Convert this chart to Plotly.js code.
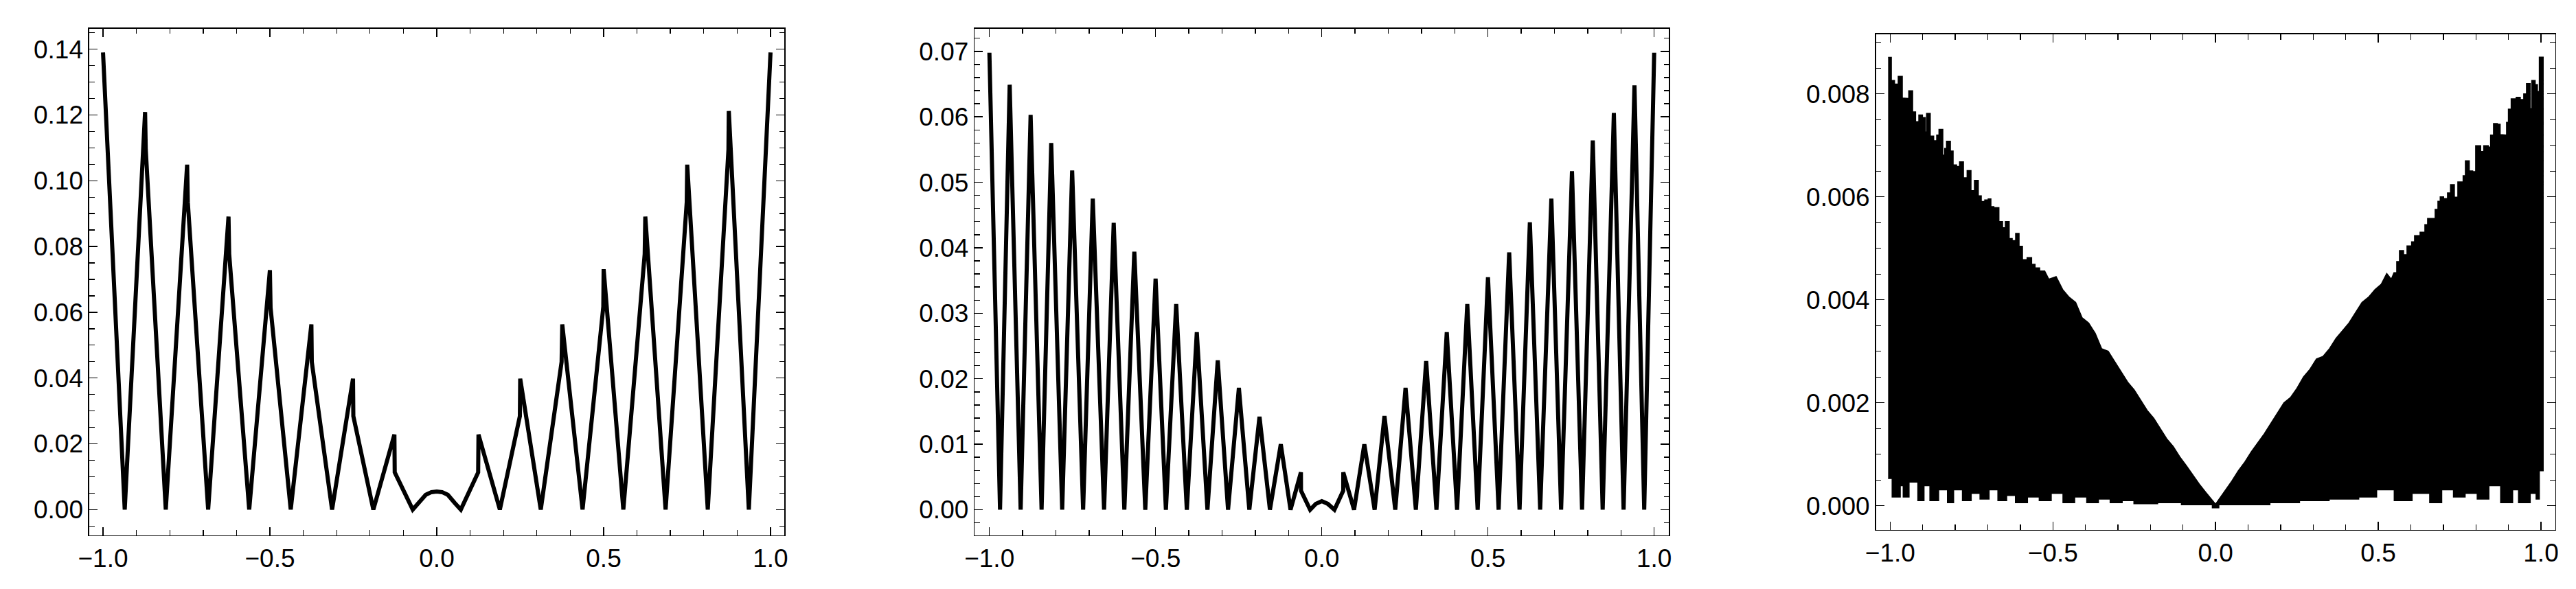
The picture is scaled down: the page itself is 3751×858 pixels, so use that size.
<!DOCTYPE html>
<html>
<head>
<meta charset="utf-8">
<script src="https://cdn.plot.ly/plotly-3.0.1.min.js"></script>
<style>html,body{margin:0;padding:0;background:#fff;}#chart{width:3751px;height:858px;}</style>
</head>
<body>
<div id="chart"></div>
<script>
// ---------- Panel 1 (polyline vertices) ----------
const p1X = [-1.0, -0.935, -0.874, -0.872, -0.812, -0.748, -0.746, -0.685, -0.624, -0.622, -0.562, -0.500, -0.498, -0.4376, -0.3757, -0.3745, -0.3137, -0.251, -0.250, -0.190, -0.127, -0.126, -0.072, -0.054, -0.033, -0.016, 0.0, 0.016, 0.033, 0.054, 0.072, 0.124, 0.125, 0.189, 0.249, 0.250, 0.3116, 0.374, 0.376, 0.4368, 0.499, 0.500, 0.559, 0.623, 0.6248, 0.6856, 0.749, 0.7504, 0.812, 0.874, 0.875, 0.935, 1.0];
const p1Y = [0.139, 0.0, 0.1209, 0.1095, 0.0, 0.1049, 0.0935, 0.0, 0.0891, 0.0777, 0.0, 0.0728, 0.0614, 0.0, 0.0563, 0.0449, 0.0, 0.0398, 0.0284, 0.0, 0.0228, 0.0113, 0.0, 0.0020, 0.0045, 0.0053, 0.0055, 0.0053, 0.0045, 0.0020, 0.0, 0.0113, 0.0228, 0.0, 0.0284, 0.0398, 0.0, 0.0449, 0.0563, 0.0, 0.0617, 0.0731, 0.0, 0.0777, 0.0891, 0.0, 0.0935, 0.1049, 0.0, 0.1095, 0.1212, 0.0, 0.139];

// ---------- Panel 2 ----------
const p2X = [-1.0, -0.968, -0.939, -0.906, -0.876, -0.843, -0.814, -0.781, -0.751, -0.718, -0.689, -0.655, -0.626, -0.594, -0.564, -0.531, -0.500, -0.469, -0.438, -0.406, -0.376, -0.344, -0.313, -0.282, -0.2494, -0.218, -0.1874, -0.156, -0.1233, -0.094, -0.0628, -0.0625, -0.035, -0.018, 0.0, 0.018, 0.038, 0.0645, 0.0647, 0.097, 0.128, 0.159, 0.1886, 0.221, 0.252, 0.283, 0.314, 0.345, 0.376, 0.407, 0.4377, 0.469, 0.500, 0.532, 0.5638, 0.595, 0.626, 0.657, 0.6907, 0.720, 0.7527, 0.783, 0.8153, 0.845, 0.8787, 0.908, 0.9407, 0.970, 1.0];
const p2Y = [0.0698, 0, 0.0649, 0, 0.0603, 0, 0.0560, 0, 0.0518, 0, 0.0475, 0, 0.0438, 0, 0.0394, 0, 0.0353, 0, 0.0314, 0, 0.0271, 0, 0.0228, 0, 0.0186, 0, 0.0142, 0, 0.0100, 0, 0.0057, 0.0029, 0, 0.0009, 0.0013, 0.0009, 0, 0.0029, 0.0057, 0, 0.0100, 0, 0.0143, 0, 0.0186, 0, 0.0227, 0, 0.0271, 0, 0.0314, 0, 0.0355, 0, 0.0393, 0, 0.0439, 0, 0.0475, 0, 0.0517, 0, 0.0564, 0, 0.0606, 0, 0.0648, 0, 0.0698];

// ---------- Panel 3 (dense oscillation drawn as its envelope) ----------
// upper envelope, left part: block left edges + heights
const p3TopLeftEdges = [-1.0063, -0.9964, -0.9866, -0.9753, -0.9627, -0.9521, -0.9430, -0.9310, -0.9219, -0.9120, -0.9008, -0.8923, -0.8881, -0.8768, -0.8663, -0.8571, -0.8501, -0.8382, -0.8325, -0.8269, -0.8149, -0.8065, -0.7959, -0.7868, -0.7748, -0.7636, -0.7516, -0.7411, -0.7291, -0.7200, -0.7094, -0.6989, -0.6904, -0.6813, -0.6658, -0.6546, -0.6461, -0.6342, -0.6250, -0.6145, -0.6039, -0.5934, -0.5793, -0.5653, -0.5547, -0.5406];
const p3TopLeftVals = [0.00871, 0.00826, 0.00819, 0.00834, 0.00792, 0.00791, 0.00806, 0.00765, 0.00746, 0.00759, 0.00754, 0.00726, 0.00762, 0.00718, 0.00709, 0.00720, 0.00731, 0.00681, 0.00694, 0.00708, 0.00689, 0.00662, 0.00659, 0.00668, 0.00637, 0.00651, 0.00612, 0.00632, 0.00602, 0.00591, 0.00594, 0.00596, 0.00581, 0.00579, 0.00552, 0.00540, 0.00552, 0.00519, 0.00515, 0.00529, 0.00504, 0.00478, 0.00482, 0.00469, 0.00462, 0.00456];
const p3TopLeftEnd = -0.5252;
// upper envelope, middle part: vertices
const p3MidX = [-0.5126, -0.49, -0.47, -0.45, -0.43, -0.41, -0.39, -0.37, -0.35, -0.33, -0.31, -0.29, -0.27, -0.25, -0.23, -0.21, -0.19, -0.17, -0.15, -0.13, -0.11, -0.09, -0.07, -0.05, -0.03, -0.01, 0.0, 0.01, 0.03, 0.05, 0.07, 0.09, 0.11, 0.13, 0.15, 0.17, 0.19, 0.21, 0.23, 0.25, 0.27, 0.29, 0.31, 0.33, 0.35, 0.37, 0.39, 0.41, 0.43, 0.45, 0.47, 0.49, 0.509, 0.526, 0.540];
const p3MidY = [0.00440, 0.00445, 0.00420, 0.00405, 0.00395, 0.00365, 0.00355, 0.00335, 0.00305, 0.00300, 0.00280, 0.00260, 0.00240, 0.00225, 0.00205, 0.00185, 0.00170, 0.00150, 0.00130, 0.00115, 0.00095, 0.00078, 0.00060, 0.00042, 0.00026, 0.00010, 0.00003, 0.00012, 0.00030, 0.00048, 0.00068, 0.00085, 0.00105, 0.00122, 0.00140, 0.00160, 0.00180, 0.00200, 0.00210, 0.00228, 0.00250, 0.00265, 0.00285, 0.00290, 0.00305, 0.00325, 0.00340, 0.00355, 0.00375, 0.00395, 0.00405, 0.00420, 0.00430, 0.00451, 0.00440];
// upper envelope, right part: block left edges + heights
const p3TopRightEdges = [0.5482, 0.5567, 0.5651, 0.5778, 0.5883, 0.6024, 0.6115, 0.6284, 0.6432, 0.6516, 0.6671, 0.6748, 0.6833, 0.6903, 0.7009, 0.7128, 0.7220, 0.7339, 0.7445, 0.7607, 0.7677, 0.7797, 0.7902, 0.7993, 0.8148, 0.8240, 0.8380, 0.8451, 0.8542, 0.8662, 0.8746, 0.8852, 0.8943, 0.8999, 0.9084, 0.9238, 0.9365, 0.9470, 0.9555, 0.9667, 0.9717, 0.9822, 0.9892, 0.9949];
const p3TopRightVals = [0.004525, 0.004743, 0.004956, 0.004876, 0.005045, 0.005125, 0.005245, 0.005312, 0.005458, 0.005578, 0.005578, 0.005756, 0.005912, 0.006000, 0.005965, 0.006076, 0.006236, 0.005992, 0.006289, 0.006409, 0.006698, 0.006503, 0.006489, 0.006992, 0.006880, 0.006992, 0.006965, 0.007200, 0.007423, 0.007409, 0.007209, 0.007200, 0.007445, 0.007703, 0.007903, 0.007934, 0.007889, 0.008000, 0.008200, 0.007712, 0.008258, 0.008178, 0.008045, 0.008712];
const p3TopRightEnd = 1.0068;
// lower envelope: block left edges + heights
const p3LowEdges = [-1.0063, -0.994, -0.969, -0.96, -0.942, -0.915, -0.896, -0.878, -0.851, -0.824, -0.805, -0.778, -0.751, -0.724, -0.696, -0.669, -0.642, -0.615, -0.578, -0.542, -0.505, -0.469, -0.433, -0.396, -0.36, -0.324, -0.287, -0.251, -0.178, -0.105, -0.033, -0.01, 0.01, 0.076, 0.167, 0.258, 0.349, 0.44, 0.495, 0.549, 0.604, 0.658, 0.695, 0.731, 0.767, 0.804, 0.84, 0.876, 0.913, 0.931, 0.967, 0.985, 0.995];
const p3LowVals = [0.00053, 0.00017, 0.00039, 0.00017, 0.00046, 0.00010, 0.00039, 0.00010, 0.00031, 0.00006, 0.00031, 0.00010, 0.00024, 0.00013, 0.00031, 0.00010, 0.00020, 0.00006, 0.00017, 0.00010, 0.00024, 0.00006, 0.00017, 0.00006, 0.00013, 0.00006, 0.00010, 0.00004, 0.00006, 0.00002, 0.00002, -0.00004, 0.00002, 0.00002, 0.00006, 0.00010, 0.00013, 0.00017, 0.00031, 0.00010, 0.00024, 0.00006, 0.00031, 0.00017, 0.00024, 0.00013, 0.00039, 0.00006, 0.00031, 0.00006, 0.00024, 0.00013, 0.00068];
const p3LowEnd = 1.0068;

// Build the filled outline of panel 3 from the read values
const polyX = [], polyY = [];
function pushBlocks(edges, vals, end) {
  for (let i = 0; i < edges.length; i++) {
    const xr = (i + 1 < edges.length) ? edges[i + 1] : end;
    polyX.push(edges[i], xr); polyY.push(vals[i], vals[i]);
  }
}
pushBlocks(p3TopLeftEdges, p3TopLeftVals, p3TopLeftEnd);
for (let i = 0; i < p3MidX.length; i++) { polyX.push(p3MidX[i]); polyY.push(p3MidY[i]); }
pushBlocks(p3TopRightEdges, p3TopRightVals, p3TopRightEnd);
for (let j = p3LowEdges.length - 1; j >= 0; j--) {
  const xr = (j + 1 < p3LowEdges.length) ? p3LowEdges[j + 1] : p3LowEnd;
  polyX.push(xr, p3LowEdges[j]); polyY.push(p3LowVals[j], p3LowVals[j]);
}

const W = 3751, H = 858;
const FONT = {family: 'Liberation Sans, Arial, sans-serif', size: 37, color: '#000'};
function ax(domain, range, dtick, minorDtick, fmt) {
  return {
    domain: domain, range: range, autorange: false, fixedrange: true,
    showline: true, linecolor: '#000', linewidth: 1.6, mirror: 'allticks',
    ticks: 'inside', ticklen: 12, tickwidth: 1.4, tickcolor: '#000',
    tick0: 0, dtick: dtick, tickformat: fmt, tickfont: FONT,
    minor: {ticks: 'inside', ticklen: 7.5, tickwidth: 1.4, tickcolor: '#000', dtick: minorDtick, tick0: 0, showgrid: false},
    showgrid: false, zeroline: false
  };
}
const yd12 = [(H - 779.7) / H, (H - 41.7) / H];
const yd3 = [(H - 771.5) / H, (H - 50) / H];

const traces = [
  {x: p1X, y: p1Y, type: 'scatter', mode: 'lines', line: {color: '#000', width: 6}, xaxis: 'x', yaxis: 'y', hoverinfo: 'skip'},
  {x: p2X, y: p2Y, type: 'scatter', mode: 'lines', line: {color: '#000', width: 6}, xaxis: 'x2', yaxis: 'y2', hoverinfo: 'skip'},
  {x: polyX, y: polyY, type: 'scatter', mode: 'lines', fill: 'toself', fillcolor: '#000', line: {color: '#000', width: 1.5}, xaxis: 'x3', yaxis: 'y3', hoverinfo: 'skip'}
];

const layout = {
  width: W, height: H, margin: {l: 0, r: 0, t: 0, b: 0, pad: 0},
  paper_bgcolor: '#fff', plot_bgcolor: '#fff', showlegend: false,
  xaxis:  Object.assign(ax([130 / W, 1142 / W], [-1.0412, 1.0412], 0.5, 0.1, '.1f'), {anchor: 'y'}),
  yaxis:  Object.assign(ax(yd12, [-0.00781, 0.14626], 0.02, 0.005, '.2f'), {anchor: 'x'}),
  xaxis2: Object.assign(ax([1419.3 / W, 2430.1 / W], [-1.0442, 1.0442], 0.5, 0.1, '.1f'), {anchor: 'y2'}),
  yaxis2: Object.assign(ax(yd12, [-0.0039, 0.07347], 0.01, 0.002, '.2f'), {anchor: 'x2'}),
  xaxis3: Object.assign(ax([2731.7 / W, 3720.7 / W], [-1.0436, 1.0437], 0.5, 0.1, '.1f'), {anchor: 'y3'}),
  yaxis3: Object.assign(ax(yd3, [-0.000464, 0.009156], 0.002, 0.0005, '.3f'), {anchor: 'x3'})
};

Plotly.newPlot('chart', traces, layout, {staticPlot: true, displayModeBar: false});
</script>
</body>
</html>
